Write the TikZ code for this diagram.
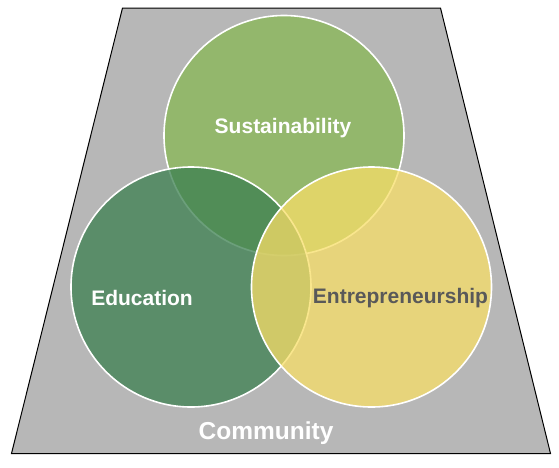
\documentclass[tikz,border=0pt]{standalone}
\usepackage{xcolor}
\usepackage{tikz}
\usepackage{fontspec}
\setmainfont{Liberation Sans}
\usetikzlibrary{calc}
\definecolor{bggray}{HTML}{B7B7B7}
\definecolor{susgreen}{HTML}{88B753}
\definecolor{edugreen}{HTML}{3B8050}
\definecolor{entyellow}{HTML}{F8DE68}
\definecolor{txtgray}{HTML}{595959}
\tikzset{
  ring/.style={circle,draw=white,line width=1.6pt,fill opacity=0.75,minimum size=240pt,inner sep=0pt},
  lbl/.style={font=\bfseries\fontsize{21}{25}\selectfont,text=white}
}

\begin{document}
\begin{tikzpicture}[x=1pt,y=-1pt]
    \useasboundingbox (0,0) rectangle (559,467);
    \draw[fill=bggray,line width=1pt] (122.5,8)--(440.5,8)--(550.5,453.5)--(11.5,453.5)--cycle;
    \node[ring,fill=susgreen] (sus) at (284,135.5) {};
    \node[ring,fill=edugreen] (edu) at (191,287) {};
    \node[ring,fill=entyellow] (ent) at (371.5,287) {};
    \node[lbl] at (283,128) (a) {Sustainability};
    \node[lbl] at (142,298) (b) {Education};
    \node[lbl,text=txtgray] at (400.5,298) (c) {Entrepreneurship};
    \node[lbl,font=\bfseries\fontsize{24.5}{29}\selectfont] at (266,433) (d) {Community};
\end{tikzpicture}
\end{document}
